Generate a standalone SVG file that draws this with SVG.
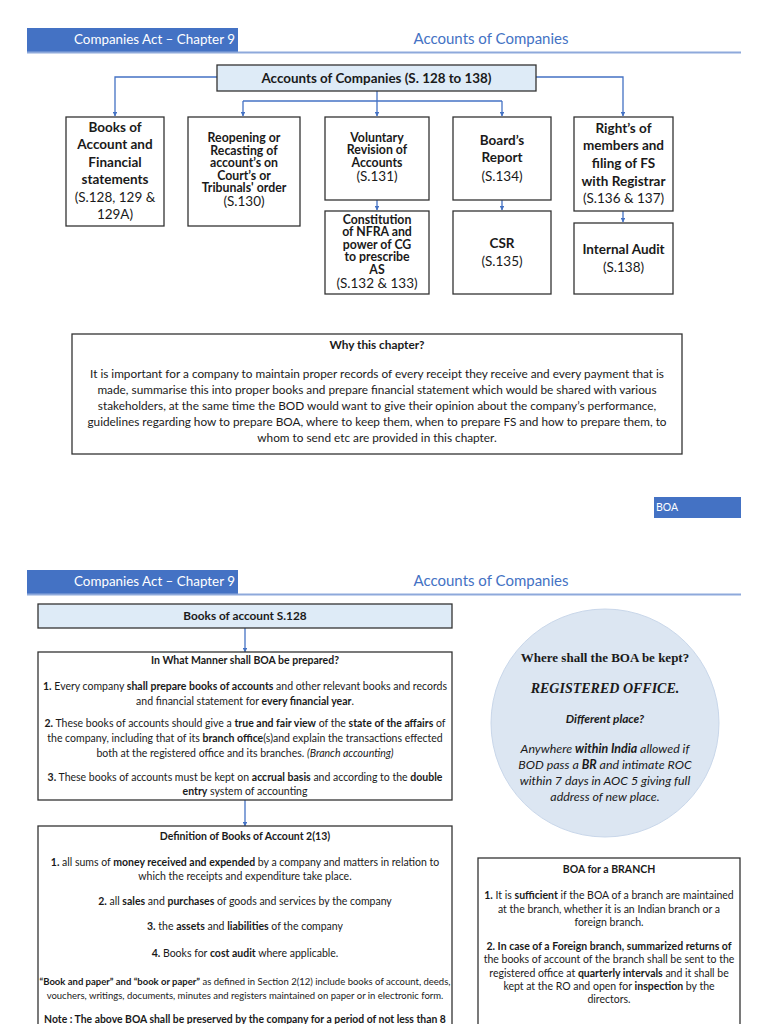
<svg xmlns="http://www.w3.org/2000/svg" width="768" height="1024" viewBox="0 0 768 1024">
<defs>
<marker id="ah" viewBox="0 0 10 10" refX="9" refY="5" markerWidth="4.5" markerHeight="4.5" orient="auto" markerUnits="userSpaceOnUse">
<path d="M0,0 L10,5 L0,10 z" fill="#4472C4"/>
</marker>
<style>
text{font-family:Lato,"Liberation Sans",sans-serif;fill:#1a1a1a}
.hdr{fill:#4472C4}
.hline{stroke:#8EA9DB;stroke-width:2}
.hw{fill:#ffffff;font-size:13.4px}
.ht{fill:#4472C4;font-size:15px}
.box{fill:#ffffff;stroke:#333333;stroke-width:1.3}
.bluebox{fill:#DEEBF7;stroke:#333333;stroke-width:1.3}
.c{text-anchor:middle}
.tb{font-size:13.5px;font-weight:bold}
.tt{font-size:12.3px;font-weight:bold}
.tn{font-size:13.5px}
.s{font-size:11.8px}
.m{font-size:10.5px}
.b{font-weight:bold}
.i{font-style:italic}
.conn{fill:none;stroke:#4472C4;stroke-width:1.3}
</style>
</defs>

<g id="header1">
<rect class="hdr" x="27" y="28" width="211" height="24"/>
<line class="hline" x1="27" y1="52.5" x2="741" y2="52.5"/>
<text class="hw" x="74" y="44">Companies Act – Chapter 9</text>
<text class="ht c" x="491" y="44">Accounts of Companies</text>
</g>

<g id="connectors">
<path class="conn" d="M217,77 H115 V116" marker-end="url(#ah)"/>
<path class="conn" d="M536,77 H623 V116" marker-end="url(#ah)"/>
<path class="conn" d="M377,91 V116" marker-end="url(#ah)"/>
<path class="conn" d="M243,101 H502"/>
<path class="conn" d="M243,101 V116" marker-end="url(#ah)"/>
<path class="conn" d="M502,101 V116" marker-end="url(#ah)"/>
<path class="conn" d="M377,200 V210" marker-end="url(#ah)"/>
<path class="conn" d="M502,200 V210" marker-end="url(#ah)"/>
<path class="conn" d="M623,211 V222" marker-end="url(#ah)"/>
<path class="conn" d="M245,628 V652" marker-end="url(#ah)"/>
<path class="conn" d="M245,800 V826" marker-end="url(#ah)"/>
</g>

<g id="root">
<rect class="bluebox" x="217" y="65" width="319" height="26"/>
<text class="c b" x="376.5" y="82.5" font-size="13.4px">Accounts of Companies (S. 128 to 138)</text>
</g>

<g id="box-books">
<rect class="box" x="66" y="117" width="98" height="109"/>
<text class="c tb" x="115" y="132">Books of</text>
<text class="c tb" x="115" y="149">Account and</text>
<text class="c tb" x="115" y="167">Financial</text>
<text class="c tb" x="115" y="184">statements</text>
<text class="c tn" x="115" y="202">(S.128, 129 &amp;</text>
<text class="c tn" x="115" y="219">129A)</text>
</g>

<g id="box-reopening">
<rect class="box" x="188" y="117" width="112" height="109"/>
<text class="c tt" x="244" y="142">Reopening or</text>
<text class="c tt" x="244" y="154.5">Recasting of</text>
<text class="c tt" x="244" y="167">account’s on</text>
<text class="c tt" x="244" y="179.5">Court’s or</text>
<text class="c tt" x="244" y="192">Tribunals' order</text>
<text class="c tn" x="244" y="206">(S.130)</text>
</g>

<g id="box-voluntary">
<rect class="box" x="325" y="117" width="104" height="83"/>
<text class="c tt" x="377" y="141.5">Voluntary</text>
<text class="c tt" x="377" y="154">Revision of</text>
<text class="c tt" x="377" y="166.5">Accounts</text>
<text class="c tn" x="377" y="181">(S.131)</text>
</g>

<g id="box-nfra">
<rect class="box" x="325" y="211" width="104" height="83"/>
<text class="c tt" x="377" y="223.5">Constitution</text>
<text class="c tt" x="377" y="236">of NFRA and</text>
<text class="c tt" x="377" y="248.5">power of CG</text>
<text class="c tt" x="377" y="261">to prescribe</text>
<text class="c tt" x="377" y="273.5">AS</text>
<text class="c tn" x="377" y="287.5">(S.132 &amp; 133)</text>
</g>

<g id="box-board">
<rect class="box" x="453" y="117" width="98" height="83"/>
<text class="c tb" x="502" y="145">Board’s</text>
<text class="c tb" x="502" y="162">Report</text>
<text class="c tn" x="502" y="181">(S.134)</text>
</g>

<g id="box-csr">
<rect class="box" x="453" y="211" width="98" height="83"/>
<text class="c tb" x="502" y="248">CSR</text>
<text class="c tn" x="502" y="266">(S.135)</text>
</g>

<g id="box-rights">
<rect class="box" x="574" y="117" width="99" height="94"/>
<text class="c tb" x="623.5" y="133">Right’s of</text>
<text class="c tb" x="623.5" y="150">members and</text>
<text class="c tb" x="623.5" y="168">filing of FS</text>
<text class="c tb" x="623.5" y="186">with Registrar</text>
<text class="c tn" x="623.5" y="203">(S.136 &amp; 137)</text>
</g>

<g id="box-audit">
<rect class="box" x="574" y="223" width="99" height="71"/>
<text class="c tb" x="623.5" y="254">Internal Audit</text>
<text class="c tn" x="623.5" y="272">(S.138)</text>
</g>

<g id="why">
<rect class="box" x="72" y="334" width="610" height="120"/>
<text class="c s b" x="377" y="349">Why this chapter?</text>
<text class="c s" x="377" y="378">It is important for a company to maintain proper records of every receipt they receive and every payment that is</text>
<text class="c s" x="377" y="394">made, summarise this into proper books and prepare financial statement which would be shared with various</text>
<text class="c s" x="377" y="410">stakeholders, at the same time the BOD would want to give their opinion about the company’s performance,</text>
<text class="c s" x="377" y="426">guidelines regarding how to prepare BOA, where to keep them, when to prepare FS and how to prepare them, to</text>
<text class="c s" x="377" y="442">whom to send etc are provided in this chapter.</text>
</g>

<g id="boa-tab">
<rect class="hdr" x="654" y="497" width="87" height="21"/>
<text x="656" y="511" font-size="10.5px" style="fill:#ffffff">BOA</text>
</g>

<g id="header2">
<rect class="hdr" x="27" y="570" width="211" height="24"/>
<line class="hline" x1="27" y1="594.5" x2="741" y2="594.5"/>
<text class="hw" x="74" y="586">Companies Act – Chapter 9</text>
<text class="ht c" x="491" y="586">Accounts of Companies</text>
</g>

<g id="books-s128">
<rect class="bluebox" x="38" y="604" width="414" height="24"/>
<text class="c b" x="245" y="620" font-size="11.8px">Books of account S.128</text>
</g>

<g id="manner">
<rect class="box" x="38" y="652" width="414" height="148"/>
<text class="c m b" x="245" y="664">In What Manner shall BOA be prepared?</text>
<text class="c m" x="245" y="690"><tspan class="b">1.</tspan> Every company <tspan class="b">shall prepare books of accounts</tspan> and other relevant books and records</text>
<text class="c m" x="245" y="705">and financial statement for <tspan class="b">every financial  year</tspan>.</text>
<text class="c m" x="245" y="727"><tspan class="b">2.</tspan> These books of accounts should give a <tspan class="b">true and fair view</tspan> of the <tspan class="b">state of the affairs</tspan> of</text>
<text class="c m" x="245" y="742">the company, including that of its <tspan class="b">branch office</tspan>(s)and explain the transactions effected</text>
<text class="c m" x="245" y="757">both at the registered office and its  branches. <tspan class="i">(Branch accounting)</tspan></text>
<text class="c m" x="245" y="781"><tspan class="b">3.</tspan>  These books of accounts must be kept on <tspan class="b">accrual basis</tspan> and according to the <tspan class="b">double</tspan></text>
<text class="c m" x="245" y="795"><tspan class="b">entry</tspan> system of accounting</text>
</g>

<g id="definition">
<rect class="box" x="38" y="826" width="414" height="210"/>
<text class="c m b" x="245" y="840">Definition of Books of Account 2(13)</text>
<text class="c m" x="245" y="866"><tspan class="b">1.</tspan> all sums of <tspan class="b">money received and expended</tspan> by a company and matters in relation to</text>
<text class="c m" x="245" y="880">which the receipts and expenditure take  place.</text>
<text class="c m" x="245" y="905"><tspan class="b">2.</tspan> all <tspan class="b">sales</tspan> and <tspan class="b">purchases</tspan> of goods and services by the  company</text>
<text class="c m" x="245" y="930"><tspan class="b">3.</tspan> the <tspan class="b">assets</tspan> and <tspan class="b">liabilities</tspan> of the company</text>
<text class="c m" x="245" y="957"><tspan class="b">4.</tspan> Books for <tspan class="b">cost audit</tspan> where applicable.</text>
<text class="c" x="245" y="985" font-size="9.5px"><tspan class="b">“Book and paper” and “book or paper”</tspan> as defined in Section 2(12) include books of account, deeds,</text>
<text class="c" x="245" y="999" font-size="9.5px">vouchers, writings, documents, minutes and registers maintained on paper or in electronic form.</text>
<text class="c b" x="245" y="1023" font-size="10.4px">Note : The above BOA shall be preserved by the company for a period of not less than 8</text>
</g>

<g id="where-kept">
<circle cx="605" cy="723" r="114" fill="#DCE6F2" stroke="#C9D7EA" stroke-width="1"/>
<text class="c" x="605" y="662" style="font-family:'Liberation Serif',serif;font-weight:bold;font-size:13px">Where shall the BOA be kept?</text>
<text class="c" x="605" y="693" style="font-family:'Liberation Serif',serif;font-weight:bold;font-style:italic;font-size:14px">REGISTERED OFFICE.</text>
<text class="c b i" x="605" y="723" font-size="11.8px">Different place?</text>
<text class="c i" x="605" y="753" font-size="12.4px">Anywhere <tspan class="b">within India</tspan> allowed if</text>
<text class="c i" x="605" y="769" font-size="12.4px">BOD pass a <tspan class="b">BR</tspan> and intimate ROC</text>
<text class="c i" x="605" y="785" font-size="12.4px">within 7 days in AOC 5 giving full</text>
<text class="c i" x="605" y="801" font-size="12.4px">address of new place.</text>
</g>

<g id="branch">
<rect class="box" x="478" y="858" width="262" height="180"/>
<text class="c m b" x="609" y="873">BOA for a BRANCH</text>
<text class="c m" x="609" y="899"><tspan class="b">1.</tspan> It is <tspan class="b">sufficient</tspan> if the BOA of a branch are maintained</text>
<text class="c m" x="609" y="913">at the branch, whether it is an Indian branch or a</text>
<text class="c m" x="609" y="926">foreign branch.</text>
<text class="c m b" x="609" y="950">2. In case of a Foreign branch, summarized returns of</text>
<text class="c m" x="609" y="963">the books of account of the branch shall be sent to the</text>
<text class="c m" x="609" y="977">registered office at <tspan class="b">quarterly intervals</tspan> and it shall be</text>
<text class="c m" x="609" y="990">kept at the RO and open for <tspan class="b">inspection</tspan> by the</text>
<text class="c m" x="609" y="1003">directors.</text>
</g>
</svg>
